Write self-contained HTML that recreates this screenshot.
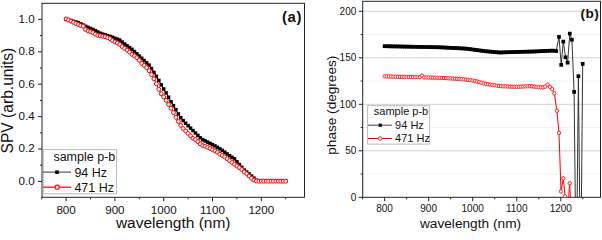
<!DOCTYPE html><html><head><meta charset="utf-8"><style>html,body{margin:0;padding:0;background:#fff;width:602px;height:232px;overflow:hidden}svg{display:block}text{font-family:"Liberation Sans",sans-serif;fill:#111}</style></head><body>
<svg width="602" height="232" viewBox="0 0 602 232">
<defs><clipPath id="cl"><rect x="42" y="3.3" width="262.5" height="194"/></clipPath>
<clipPath id="cr"><rect x="362.7" y="1.3" width="237.8" height="196"/></clipPath></defs>
<g stroke="#222" stroke-width="1" fill="none">
<rect x="42" y="3.3" width="262.5" height="194"/>
<line x1="38" y1="181.4" x2="42" y2="181.4"/>
<line x1="40" y1="165.2" x2="42" y2="165.2"/>
<line x1="38" y1="149" x2="42" y2="149"/>
<line x1="40" y1="132.8" x2="42" y2="132.8"/>
<line x1="38" y1="116.6" x2="42" y2="116.6"/>
<line x1="40" y1="100.4" x2="42" y2="100.4"/>
<line x1="38" y1="84.2" x2="42" y2="84.2"/>
<line x1="40" y1="68" x2="42" y2="68"/>
<line x1="38" y1="51.8" x2="42" y2="51.8"/>
<line x1="40" y1="35.6" x2="42" y2="35.6"/>
<line x1="38" y1="19.4" x2="42" y2="19.4"/>
<line x1="41.7" y1="197.3" x2="41.7" y2="199.3"/>
<line x1="66.1" y1="197.3" x2="66.1" y2="201.3"/>
<line x1="90.5" y1="197.3" x2="90.5" y2="199.3"/>
<line x1="114.9" y1="197.3" x2="114.9" y2="201.3"/>
<line x1="139.3" y1="197.3" x2="139.3" y2="199.3"/>
<line x1="163.7" y1="197.3" x2="163.7" y2="201.3"/>
<line x1="188.1" y1="197.3" x2="188.1" y2="199.3"/>
<line x1="212.5" y1="197.3" x2="212.5" y2="201.3"/>
<line x1="236.9" y1="197.3" x2="236.9" y2="199.3"/>
<line x1="261.3" y1="197.3" x2="261.3" y2="201.3"/>
<line x1="285.7" y1="197.3" x2="285.7" y2="199.3"/>
</g>
<g font-size="11.6" text-anchor="end">
<text x="34.6" y="184.8">0.0</text>
<text x="34.6" y="152.4">0.2</text>
<text x="34.6" y="120">0.4</text>
<text x="34.6" y="87.6">0.6</text>
<text x="34.6" y="55.2">0.8</text>
<text x="34.6" y="22.8">1.0</text>
</g><g font-size="11.6" text-anchor="middle">
<text x="66.1" y="213.6">800</text>
<text x="114.9" y="213.6">900</text>
<text x="163.7" y="213.6">1000</text>
<text x="212.5" y="213.6">1100</text>
<text x="261.3" y="213.6">1200</text>
</g>
<text x="173.2" y="227.9" font-size="15.5" text-anchor="middle">wavelength (nm)</text>
<text transform="translate(12.9,100.6) rotate(-90)" font-size="15.6" text-anchor="middle">SPV (arb.units)</text>
<text x="302.1" y="21.7" font-size="15" font-weight="bold" letter-spacing="0.6" text-anchor="end">(a)</text>
<g clip-path="url(#cl)">
<polyline fill="none" stroke="#000" stroke-width="1" points="66.1,19.33 68.54,19.98 70.98,20.63 73.42,21.28 75.86,21.93 78.3,22.65 80.74,23.87 83.18,25.09 85.62,26.31 88.06,27.44 90.5,28.44 92.94,29.45 95.38,30.65 97.82,31.96 100.26,33.26 102.7,34.12 105.14,34.88 107.58,35.64 110.02,36.4 112.46,37.28 114.9,38.26 117.34,39.15 119.78,40.07 122.22,42.13 124.66,44.06 127.1,45.82 129.54,47.58 131.98,49.34 134.42,51.54 136.86,53.79 139.3,56.03 141.74,58.28 144.18,60.55 146.62,62.82 149.06,65.09 151.5,68.63 153.94,72.46 156.38,76.34 158.82,80.45 161.26,84.88 163.7,88.97 166.14,92.88 168.58,97.28 171.02,101.73 173.46,105.65 175.9,109.66 178.34,113.99 180.78,117.71 183.22,120.66 185.66,123.26 188.1,125.7 190.54,128.14 192.98,130.58 195.42,133 197.86,135.41 200.3,137.82 202.74,139.65 205.18,140.92 207.62,142.19 210.06,143.44 212.5,144.68 214.94,145.91 217.38,147.35 219.82,148.87 222.26,150.39 224.7,152.15 227.14,153.96 229.58,155.75 232.02,157.3 234.46,158.85 236.9,161.68 239.34,164.61 241.78,167.36 244.22,170.11 246.66,172.02 249.1,173.96 251.54,176.03 253.98,178.17 256.42,180.2 258.86,181.2 261.3,181.2 263.74,181.2 266.18,181.2 268.62,181.2 271.06,181.2 273.5,181.2 275.94,181.2 278.38,181.2 280.82,181.2 283.26,181.2 285.7,181.2"/>
<g fill="#000">
<rect x="64.35" y="17.58" width="3.5" height="3.5"/>
<rect x="66.79" y="18.23" width="3.5" height="3.5"/>
<rect x="69.23" y="18.88" width="3.5" height="3.5"/>
<rect x="71.67" y="19.53" width="3.5" height="3.5"/>
<rect x="74.11" y="20.18" width="3.5" height="3.5"/>
<rect x="76.55" y="20.9" width="3.5" height="3.5"/>
<rect x="78.99" y="22.12" width="3.5" height="3.5"/>
<rect x="81.43" y="23.34" width="3.5" height="3.5"/>
<rect x="83.87" y="24.56" width="3.5" height="3.5"/>
<rect x="86.31" y="25.69" width="3.5" height="3.5"/>
<rect x="88.75" y="26.69" width="3.5" height="3.5"/>
<rect x="91.19" y="27.7" width="3.5" height="3.5"/>
<rect x="93.63" y="28.9" width="3.5" height="3.5"/>
<rect x="96.07" y="30.21" width="3.5" height="3.5"/>
<rect x="98.51" y="31.51" width="3.5" height="3.5"/>
<rect x="100.95" y="32.37" width="3.5" height="3.5"/>
<rect x="103.39" y="33.13" width="3.5" height="3.5"/>
<rect x="105.83" y="33.89" width="3.5" height="3.5"/>
<rect x="108.27" y="34.65" width="3.5" height="3.5"/>
<rect x="110.71" y="35.53" width="3.5" height="3.5"/>
<rect x="113.15" y="36.51" width="3.5" height="3.5"/>
<rect x="115.59" y="37.4" width="3.5" height="3.5"/>
<rect x="118.03" y="38.32" width="3.5" height="3.5"/>
<rect x="120.47" y="40.38" width="3.5" height="3.5"/>
<rect x="122.91" y="42.31" width="3.5" height="3.5"/>
<rect x="125.35" y="44.07" width="3.5" height="3.5"/>
<rect x="127.79" y="45.83" width="3.5" height="3.5"/>
<rect x="130.23" y="47.59" width="3.5" height="3.5"/>
<rect x="132.67" y="49.79" width="3.5" height="3.5"/>
<rect x="135.11" y="52.04" width="3.5" height="3.5"/>
<rect x="137.55" y="54.28" width="3.5" height="3.5"/>
<rect x="139.99" y="56.53" width="3.5" height="3.5"/>
<rect x="142.43" y="58.8" width="3.5" height="3.5"/>
<rect x="144.87" y="61.07" width="3.5" height="3.5"/>
<rect x="147.31" y="63.34" width="3.5" height="3.5"/>
<rect x="149.75" y="66.88" width="3.5" height="3.5"/>
<rect x="152.19" y="70.71" width="3.5" height="3.5"/>
<rect x="154.63" y="74.59" width="3.5" height="3.5"/>
<rect x="157.07" y="78.7" width="3.5" height="3.5"/>
<rect x="159.51" y="83.13" width="3.5" height="3.5"/>
<rect x="161.95" y="87.22" width="3.5" height="3.5"/>
<rect x="164.39" y="91.13" width="3.5" height="3.5"/>
<rect x="166.83" y="95.53" width="3.5" height="3.5"/>
<rect x="169.27" y="99.98" width="3.5" height="3.5"/>
<rect x="171.71" y="103.9" width="3.5" height="3.5"/>
<rect x="174.15" y="107.91" width="3.5" height="3.5"/>
<rect x="176.59" y="112.24" width="3.5" height="3.5"/>
<rect x="179.03" y="115.96" width="3.5" height="3.5"/>
<rect x="181.47" y="118.91" width="3.5" height="3.5"/>
<rect x="183.91" y="121.51" width="3.5" height="3.5"/>
<rect x="186.35" y="123.95" width="3.5" height="3.5"/>
<rect x="188.79" y="126.39" width="3.5" height="3.5"/>
<rect x="191.23" y="128.83" width="3.5" height="3.5"/>
<rect x="193.67" y="131.25" width="3.5" height="3.5"/>
<rect x="196.11" y="133.66" width="3.5" height="3.5"/>
<rect x="198.55" y="136.07" width="3.5" height="3.5"/>
<rect x="200.99" y="137.9" width="3.5" height="3.5"/>
<rect x="203.43" y="139.17" width="3.5" height="3.5"/>
<rect x="205.87" y="140.44" width="3.5" height="3.5"/>
<rect x="208.31" y="141.69" width="3.5" height="3.5"/>
<rect x="210.75" y="142.93" width="3.5" height="3.5"/>
<rect x="213.19" y="144.16" width="3.5" height="3.5"/>
<rect x="215.63" y="145.6" width="3.5" height="3.5"/>
<rect x="218.07" y="147.12" width="3.5" height="3.5"/>
<rect x="220.51" y="148.64" width="3.5" height="3.5"/>
<rect x="222.95" y="150.4" width="3.5" height="3.5"/>
<rect x="225.39" y="152.21" width="3.5" height="3.5"/>
<rect x="227.83" y="154" width="3.5" height="3.5"/>
<rect x="230.27" y="155.55" width="3.5" height="3.5"/>
<rect x="232.71" y="157.1" width="3.5" height="3.5"/>
<rect x="235.15" y="159.93" width="3.5" height="3.5"/>
<rect x="237.59" y="162.86" width="3.5" height="3.5"/>
<rect x="240.03" y="165.61" width="3.5" height="3.5"/>
<rect x="242.47" y="168.36" width="3.5" height="3.5"/>
<rect x="244.91" y="170.27" width="3.5" height="3.5"/>
<rect x="247.35" y="172.21" width="3.5" height="3.5"/>
<rect x="249.79" y="174.28" width="3.5" height="3.5"/>
<rect x="252.23" y="176.42" width="3.5" height="3.5"/>
<rect x="254.67" y="178.45" width="3.5" height="3.5"/>
<rect x="257.11" y="179.45" width="3.5" height="3.5"/>
<rect x="259.55" y="179.45" width="3.5" height="3.5"/>
<rect x="261.99" y="179.45" width="3.5" height="3.5"/>
<rect x="264.43" y="179.45" width="3.5" height="3.5"/>
<rect x="266.87" y="179.45" width="3.5" height="3.5"/>
<rect x="269.31" y="179.45" width="3.5" height="3.5"/>
<rect x="271.75" y="179.45" width="3.5" height="3.5"/>
<rect x="274.19" y="179.45" width="3.5" height="3.5"/>
<rect x="276.63" y="179.45" width="3.5" height="3.5"/>
<rect x="279.07" y="179.45" width="3.5" height="3.5"/>
<rect x="281.51" y="179.45" width="3.5" height="3.5"/>
<rect x="283.95" y="179.45" width="3.5" height="3.5"/>
</g>
<polyline fill="none" stroke="#f00" stroke-width="1" points="66.1,18.85 68.54,20.05 70.98,21.14 73.42,22.31 75.86,23.52 78.3,24.52 80.74,25.61 83.18,26.15 85.62,29.57 88.06,30.9 90.5,31.69 92.94,32.64 95.38,34.22 97.82,35.28 100.26,35.75 102.7,36.18 105.14,36.8 107.58,37.59 110.02,38.73 112.46,40.55 114.9,41.88 117.34,43.08 119.78,44.44 122.22,46.63 124.66,48.35 127.1,50.14 129.54,52.14 131.98,54.35 134.42,55.83 136.86,57.76 139.3,60.26 141.74,63.43 144.18,65.42 146.62,67.66 149.06,70.66 151.5,74.58 153.94,78.86 156.38,83.81 158.82,89.32 161.26,93.69 163.7,96.95 166.14,100.36 168.58,104.35 171.02,108.26 173.46,112.57 175.9,117.39 178.34,121.43 180.78,125.37 183.22,128.52 185.66,130.96 188.1,133.4 190.54,135.84 192.98,138.36 195.42,139.53 197.86,141.66 200.3,143.84 202.74,145.66 205.18,146.33 207.62,147.29 210.06,148.48 212.5,149.7 214.94,150.89 217.38,152.3 219.82,154.16 222.26,155.43 224.7,156.97 227.14,158.78 229.58,160.65 232.02,162.48 234.46,164.25 236.9,165.92 239.34,167.63 241.78,169.48 244.22,171.87 246.66,173.73 249.1,176 251.54,178.27 253.98,180.06 256.42,181.03 258.86,181.2 261.3,181.2 263.74,181.2 266.18,181.2 268.62,181.2 271.06,181.2 273.5,181.2 275.94,181.2 278.38,181.2 280.82,181.2 283.26,181.2 285.7,181.2"/>
<g fill="#fff" stroke="#f00" stroke-width="1">
<circle cx="66.1" cy="18.85" r="1.95"/>
<circle cx="68.54" cy="20.05" r="1.95"/>
<circle cx="70.98" cy="21.14" r="1.95"/>
<circle cx="73.42" cy="22.31" r="1.95"/>
<circle cx="75.86" cy="23.52" r="1.95"/>
<circle cx="78.3" cy="24.52" r="1.95"/>
<circle cx="80.74" cy="25.61" r="1.95"/>
<circle cx="83.18" cy="26.15" r="1.95"/>
<circle cx="85.62" cy="29.57" r="1.95"/>
<circle cx="88.06" cy="30.9" r="1.95"/>
<circle cx="90.5" cy="31.69" r="1.95"/>
<circle cx="92.94" cy="32.64" r="1.95"/>
<circle cx="95.38" cy="34.22" r="1.95"/>
<circle cx="97.82" cy="35.28" r="1.95"/>
<circle cx="100.26" cy="35.75" r="1.95"/>
<circle cx="102.7" cy="36.18" r="1.95"/>
<circle cx="105.14" cy="36.8" r="1.95"/>
<circle cx="107.58" cy="37.59" r="1.95"/>
<circle cx="110.02" cy="38.73" r="1.95"/>
<circle cx="112.46" cy="40.55" r="1.95"/>
<circle cx="114.9" cy="41.88" r="1.95"/>
<circle cx="117.34" cy="43.08" r="1.95"/>
<circle cx="119.78" cy="44.44" r="1.95"/>
<circle cx="122.22" cy="46.63" r="1.95"/>
<circle cx="124.66" cy="48.35" r="1.95"/>
<circle cx="127.1" cy="50.14" r="1.95"/>
<circle cx="129.54" cy="52.14" r="1.95"/>
<circle cx="131.98" cy="54.35" r="1.95"/>
<circle cx="134.42" cy="55.83" r="1.95"/>
<circle cx="136.86" cy="57.76" r="1.95"/>
<circle cx="139.3" cy="60.26" r="1.95"/>
<circle cx="141.74" cy="63.43" r="1.95"/>
<circle cx="144.18" cy="65.42" r="1.95"/>
<circle cx="146.62" cy="67.66" r="1.95"/>
<circle cx="149.06" cy="70.66" r="1.95"/>
<circle cx="151.5" cy="74.58" r="1.95"/>
<circle cx="153.94" cy="78.86" r="1.95"/>
<circle cx="156.38" cy="83.81" r="1.95"/>
<circle cx="158.82" cy="89.32" r="1.95"/>
<circle cx="161.26" cy="93.69" r="1.95"/>
<circle cx="163.7" cy="96.95" r="1.95"/>
<circle cx="166.14" cy="100.36" r="1.95"/>
<circle cx="168.58" cy="104.35" r="1.95"/>
<circle cx="171.02" cy="108.26" r="1.95"/>
<circle cx="173.46" cy="112.57" r="1.95"/>
<circle cx="175.9" cy="117.39" r="1.95"/>
<circle cx="178.34" cy="121.43" r="1.95"/>
<circle cx="180.78" cy="125.37" r="1.95"/>
<circle cx="183.22" cy="128.52" r="1.95"/>
<circle cx="185.66" cy="130.96" r="1.95"/>
<circle cx="188.1" cy="133.4" r="1.95"/>
<circle cx="190.54" cy="135.84" r="1.95"/>
<circle cx="192.98" cy="138.36" r="1.95"/>
<circle cx="195.42" cy="139.53" r="1.95"/>
<circle cx="197.86" cy="141.66" r="1.95"/>
<circle cx="200.3" cy="143.84" r="1.95"/>
<circle cx="202.74" cy="145.66" r="1.95"/>
<circle cx="205.18" cy="146.33" r="1.95"/>
<circle cx="207.62" cy="147.29" r="1.95"/>
<circle cx="210.06" cy="148.48" r="1.95"/>
<circle cx="212.5" cy="149.7" r="1.95"/>
<circle cx="214.94" cy="150.89" r="1.95"/>
<circle cx="217.38" cy="152.3" r="1.95"/>
<circle cx="219.82" cy="154.16" r="1.95"/>
<circle cx="222.26" cy="155.43" r="1.95"/>
<circle cx="224.7" cy="156.97" r="1.95"/>
<circle cx="227.14" cy="158.78" r="1.95"/>
<circle cx="229.58" cy="160.65" r="1.95"/>
<circle cx="232.02" cy="162.48" r="1.95"/>
<circle cx="234.46" cy="164.25" r="1.95"/>
<circle cx="236.9" cy="165.92" r="1.95"/>
<circle cx="239.34" cy="167.63" r="1.95"/>
<circle cx="241.78" cy="169.48" r="1.95"/>
<circle cx="244.22" cy="171.87" r="1.95"/>
<circle cx="246.66" cy="173.73" r="1.95"/>
<circle cx="249.1" cy="176" r="1.95"/>
<circle cx="251.54" cy="178.27" r="1.95"/>
<circle cx="253.98" cy="180.06" r="1.95"/>
<circle cx="256.42" cy="181.03" r="1.95"/>
<circle cx="258.86" cy="181.2" r="1.95"/>
<circle cx="261.3" cy="181.2" r="1.95"/>
<circle cx="263.74" cy="181.2" r="1.95"/>
<circle cx="266.18" cy="181.2" r="1.95"/>
<circle cx="268.62" cy="181.2" r="1.95"/>
<circle cx="271.06" cy="181.2" r="1.95"/>
<circle cx="273.5" cy="181.2" r="1.95"/>
<circle cx="275.94" cy="181.2" r="1.95"/>
<circle cx="278.38" cy="181.2" r="1.95"/>
<circle cx="280.82" cy="181.2" r="1.95"/>
<circle cx="283.26" cy="181.2" r="1.95"/>
<circle cx="285.7" cy="181.2" r="1.95"/>
</g></g>
<rect x="43.3" y="149.6" width="73.3" height="44.2" fill="#fff" stroke="#bbb" stroke-width="1"/>
<g font-size="12.5"><text x="53.4" y="160.7">sample p-b</text><text x="74.4" y="176.5">94 Hz</text><text x="74.4" y="191.5">471 Hz</text></g>
<line x1="43" y1="172.1" x2="71" y2="172.1" stroke="#555" stroke-width="1.2"/>
<rect x="55.2" y="170.4" width="3.6" height="3.6" fill="#000"/>
<line x1="43" y1="187.2" x2="71" y2="187.2" stroke="#f00" stroke-width="1.2"/>
<circle cx="57.2" cy="187.2" r="2.1" fill="#fff" stroke="#f00" stroke-width="1.1"/>
<line x1="362.7" y1="174.05" x2="600.5" y2="174.05" stroke="#f3f3f3" stroke-width="1"/>
<line x1="362.7" y1="150.8" x2="600.5" y2="150.8" stroke="#d2d2d2" stroke-width="1"/>
<line x1="362.7" y1="127.55" x2="600.5" y2="127.55" stroke="#f3f3f3" stroke-width="1"/>
<line x1="362.7" y1="104.3" x2="600.5" y2="104.3" stroke="#d2d2d2" stroke-width="1"/>
<line x1="362.7" y1="81.05" x2="600.5" y2="81.05" stroke="#f3f3f3" stroke-width="1"/>
<line x1="362.7" y1="57.8" x2="600.5" y2="57.8" stroke="#d2d2d2" stroke-width="1"/>
<line x1="362.7" y1="34.55" x2="600.5" y2="34.55" stroke="#f3f3f3" stroke-width="1"/>
<line x1="362.7" y1="11.3" x2="600.5" y2="11.3" stroke="#d2d2d2" stroke-width="1"/>
<g stroke="#222" stroke-width="1" fill="none">
<rect x="362.7" y="1.3" width="237.8" height="196"/>
<line x1="358.7" y1="197.3" x2="362.7" y2="197.3"/>
<line x1="360.7" y1="174.05" x2="362.7" y2="174.05"/>
<line x1="358.7" y1="150.8" x2="362.7" y2="150.8"/>
<line x1="360.7" y1="127.55" x2="362.7" y2="127.55"/>
<line x1="358.7" y1="104.3" x2="362.7" y2="104.3"/>
<line x1="360.7" y1="81.05" x2="362.7" y2="81.05"/>
<line x1="358.7" y1="57.8" x2="362.7" y2="57.8"/>
<line x1="360.7" y1="34.55" x2="362.7" y2="34.55"/>
<line x1="358.7" y1="11.3" x2="362.7" y2="11.3"/>
<line x1="362.58" y1="197.3" x2="362.58" y2="199.3"/>
<line x1="384.6" y1="197.3" x2="384.6" y2="201.3"/>
<line x1="406.62" y1="197.3" x2="406.62" y2="199.3"/>
<line x1="428.65" y1="197.3" x2="428.65" y2="201.3"/>
<line x1="450.68" y1="197.3" x2="450.68" y2="199.3"/>
<line x1="472.7" y1="197.3" x2="472.7" y2="201.3"/>
<line x1="494.73" y1="197.3" x2="494.73" y2="199.3"/>
<line x1="516.75" y1="197.3" x2="516.75" y2="201.3"/>
<line x1="538.78" y1="197.3" x2="538.78" y2="199.3"/>
<line x1="560.8" y1="197.3" x2="560.8" y2="201.3"/>
<line x1="582.83" y1="197.3" x2="582.83" y2="199.3"/>
</g>
<g font-size="10" text-anchor="end">
<text x="356.3" y="200.9">0</text>
<text x="356.3" y="154.4">50</text>
<text x="356.3" y="107.9">100</text>
<text x="356.3" y="61.4">150</text>
<text x="356.3" y="14.9">200</text>
</g><g font-size="10" text-anchor="middle">
<text x="384.6" y="212.3">800</text>
<text x="428.65" y="212.3">900</text>
<text x="472.7" y="212.3">1000</text>
<text x="516.75" y="212.3">1100</text>
<text x="560.8" y="212.3">1200</text>
</g>
<text x="470.5" y="227.5" font-size="13.7" text-anchor="middle">wavelength (nm)</text>
<text transform="translate(336.2,105.2) rotate(-90)" font-size="13.6" text-anchor="middle">phase (degrees)</text>
<text x="599.4" y="18.2" font-size="13.6" font-weight="bold" letter-spacing="0.5" text-anchor="end">(b)</text>
<g clip-path="url(#cr)">
<polyline fill="none" stroke="#333" stroke-width="1" points="384.6,46.2 386.8,46.24 389,46.29 391.2,46.33 393.4,46.37 395.6,46.42 397.8,46.46 400,46.51 402.2,46.55 404.4,46.59 406.6,46.64 408.8,46.68 411,46.72 413.2,46.77 415.4,46.81 417.6,46.86 419.8,46.9 422,46.94 424.2,46.99 426.4,47.03 428.6,47.07 430.8,47.12 433,47.16 435.2,47.2 437.4,47.25 439.6,47.29 441.8,47.39 444,47.5 446.2,47.61 448.4,47.72 450.6,47.83 452.8,47.94 455,48.05 457.2,48.16 459.4,48.27 461.6,48.38 463.8,48.49 466,48.61 468.2,48.91 470.4,49.2 472.6,49.5 474.8,49.79 477,50.09 479.2,50.38 481.4,50.68 483.6,50.97 485.8,51.25 488,51.45 490.2,51.65 492.4,51.85 494.6,52.05 496.8,52.25 499,52.45 501.2,52.44 503.4,52.37 505.6,52.3 507.8,52.22 510,52.15 512.2,52.07 514.4,52 516.6,51.94 518.8,51.89 521,51.83 523.2,51.77 525.4,51.72 527.6,51.66 529.8,51.6 532,51.55 534.2,51.48 536.4,51.38 538.6,51.28 540.8,51.17 543,51.07 545.2,50.97 547.4,50.87 549.6,50.76 551.8,50.66 554,50.74 556.2,51.08 559,36.9 561.2,64.9 563.3,41.6 565.5,57.3 567.6,62.7 569.8,33.6 571.9,39.7 574.1,91.9 576.3,290 578.4,76.2 580.6,290 582.7,63.9"/>
<g fill="#000">
<rect x="382.75" y="44.35" width="3.7" height="3.7"/>
<rect x="384.95" y="44.39" width="3.7" height="3.7"/>
<rect x="387.15" y="44.44" width="3.7" height="3.7"/>
<rect x="389.35" y="44.48" width="3.7" height="3.7"/>
<rect x="391.55" y="44.52" width="3.7" height="3.7"/>
<rect x="393.75" y="44.57" width="3.7" height="3.7"/>
<rect x="395.95" y="44.61" width="3.7" height="3.7"/>
<rect x="398.15" y="44.66" width="3.7" height="3.7"/>
<rect x="400.35" y="44.7" width="3.7" height="3.7"/>
<rect x="402.55" y="44.74" width="3.7" height="3.7"/>
<rect x="404.75" y="44.79" width="3.7" height="3.7"/>
<rect x="406.95" y="44.83" width="3.7" height="3.7"/>
<rect x="409.15" y="44.87" width="3.7" height="3.7"/>
<rect x="411.35" y="44.92" width="3.7" height="3.7"/>
<rect x="413.55" y="44.96" width="3.7" height="3.7"/>
<rect x="415.75" y="45.01" width="3.7" height="3.7"/>
<rect x="417.95" y="45.05" width="3.7" height="3.7"/>
<rect x="420.15" y="45.09" width="3.7" height="3.7"/>
<rect x="422.35" y="45.14" width="3.7" height="3.7"/>
<rect x="424.55" y="45.18" width="3.7" height="3.7"/>
<rect x="426.75" y="45.22" width="3.7" height="3.7"/>
<rect x="428.95" y="45.27" width="3.7" height="3.7"/>
<rect x="431.15" y="45.31" width="3.7" height="3.7"/>
<rect x="433.35" y="45.35" width="3.7" height="3.7"/>
<rect x="435.55" y="45.4" width="3.7" height="3.7"/>
<rect x="437.75" y="45.44" width="3.7" height="3.7"/>
<rect x="439.95" y="45.54" width="3.7" height="3.7"/>
<rect x="442.15" y="45.65" width="3.7" height="3.7"/>
<rect x="444.35" y="45.76" width="3.7" height="3.7"/>
<rect x="446.55" y="45.87" width="3.7" height="3.7"/>
<rect x="448.75" y="45.98" width="3.7" height="3.7"/>
<rect x="450.95" y="46.09" width="3.7" height="3.7"/>
<rect x="453.15" y="46.2" width="3.7" height="3.7"/>
<rect x="455.35" y="46.31" width="3.7" height="3.7"/>
<rect x="457.55" y="46.42" width="3.7" height="3.7"/>
<rect x="459.75" y="46.53" width="3.7" height="3.7"/>
<rect x="461.95" y="46.64" width="3.7" height="3.7"/>
<rect x="464.15" y="46.76" width="3.7" height="3.7"/>
<rect x="466.35" y="47.06" width="3.7" height="3.7"/>
<rect x="468.55" y="47.35" width="3.7" height="3.7"/>
<rect x="470.75" y="47.65" width="3.7" height="3.7"/>
<rect x="472.95" y="47.94" width="3.7" height="3.7"/>
<rect x="475.15" y="48.24" width="3.7" height="3.7"/>
<rect x="477.35" y="48.53" width="3.7" height="3.7"/>
<rect x="479.55" y="48.83" width="3.7" height="3.7"/>
<rect x="481.75" y="49.12" width="3.7" height="3.7"/>
<rect x="483.95" y="49.4" width="3.7" height="3.7"/>
<rect x="486.15" y="49.6" width="3.7" height="3.7"/>
<rect x="488.35" y="49.8" width="3.7" height="3.7"/>
<rect x="490.55" y="50" width="3.7" height="3.7"/>
<rect x="492.75" y="50.2" width="3.7" height="3.7"/>
<rect x="494.95" y="50.4" width="3.7" height="3.7"/>
<rect x="497.15" y="50.6" width="3.7" height="3.7"/>
<rect x="499.35" y="50.59" width="3.7" height="3.7"/>
<rect x="501.55" y="50.52" width="3.7" height="3.7"/>
<rect x="503.75" y="50.45" width="3.7" height="3.7"/>
<rect x="505.95" y="50.37" width="3.7" height="3.7"/>
<rect x="508.15" y="50.3" width="3.7" height="3.7"/>
<rect x="510.35" y="50.22" width="3.7" height="3.7"/>
<rect x="512.55" y="50.15" width="3.7" height="3.7"/>
<rect x="514.75" y="50.09" width="3.7" height="3.7"/>
<rect x="516.95" y="50.04" width="3.7" height="3.7"/>
<rect x="519.15" y="49.98" width="3.7" height="3.7"/>
<rect x="521.35" y="49.92" width="3.7" height="3.7"/>
<rect x="523.55" y="49.87" width="3.7" height="3.7"/>
<rect x="525.75" y="49.81" width="3.7" height="3.7"/>
<rect x="527.95" y="49.75" width="3.7" height="3.7"/>
<rect x="530.15" y="49.7" width="3.7" height="3.7"/>
<rect x="532.35" y="49.63" width="3.7" height="3.7"/>
<rect x="534.55" y="49.53" width="3.7" height="3.7"/>
<rect x="536.75" y="49.43" width="3.7" height="3.7"/>
<rect x="538.95" y="49.32" width="3.7" height="3.7"/>
<rect x="541.15" y="49.22" width="3.7" height="3.7"/>
<rect x="543.35" y="49.12" width="3.7" height="3.7"/>
<rect x="545.55" y="49.02" width="3.7" height="3.7"/>
<rect x="547.75" y="48.91" width="3.7" height="3.7"/>
<rect x="549.95" y="48.81" width="3.7" height="3.7"/>
<rect x="552.15" y="48.89" width="3.7" height="3.7"/>
<rect x="554.35" y="49.23" width="3.7" height="3.7"/>
<rect x="557.15" y="35.05" width="3.7" height="3.7"/>
<rect x="559.35" y="63.05" width="3.7" height="3.7"/>
<rect x="561.45" y="39.75" width="3.7" height="3.7"/>
<rect x="563.65" y="55.45" width="3.7" height="3.7"/>
<rect x="565.75" y="60.85" width="3.7" height="3.7"/>
<rect x="567.95" y="31.75" width="3.7" height="3.7"/>
<rect x="570.05" y="37.85" width="3.7" height="3.7"/>
<rect x="572.25" y="90.05" width="3.7" height="3.7"/>
<rect x="574.45" y="288.15" width="3.7" height="3.7"/>
<rect x="576.55" y="74.35" width="3.7" height="3.7"/>
<rect x="578.75" y="288.15" width="3.7" height="3.7"/>
<rect x="580.85" y="62.05" width="3.7" height="3.7"/>
</g>
<polyline fill="none" stroke="#f00" stroke-width="1" points="384.6,76.3 386.8,76.38 389,76.47 391.2,76.55 393.4,76.64 395.6,76.72 397.8,76.8 400,76.89 402.2,76.97 404.4,77.02 406.6,77.04 408.8,77.07 411,77.1 413.2,77.12 415.4,77.15 417.6,77.17 419.8,77.2 422,75.6 424.2,77.4 426.4,77.47 428.6,77.53 430.8,77.6 433,77.66 435.2,77.73 437.4,77.79 439.6,77.86 441.8,77.92 444,77.99 446.2,78.12 448.4,78.26 450.6,78.41 452.8,78.55 455,78.7 457.2,78.84 459.4,78.99 461.6,79.16 463.8,79.4 466,79.65 468.2,79.9 470.4,80.18 472.6,80.61 474.8,81.04 477,81.46 479.2,82.05 481.4,82.7 483.6,83.35 485.8,83.91 488,84.24 490.2,84.58 492.4,84.91 494.6,85.25 496.8,85.58 499,85.92 501.2,86.15 503.4,86.27 505.6,86.39 507.8,86.51 510,86.62 512.2,86.74 514.4,86.86 516.6,86.83 518.8,86.71 521,86.59 523.2,86.48 525.4,86.36 527.6,86.24 529.8,86.13 532,86.31 534.2,86.58 536.4,86.86 538.6,87.13 540.8,87.4 543,87.39 545.2,86.61 547.6,84.6 549.9,86.9 552.2,89.1 554.3,93.4 556.9,110.8 559,132.8 561,191.4 563.3,178.3 565.1,196.3 567.4,215 569.7,183.2 572,230"/>
<g fill="#fff" stroke="#f22" stroke-width="1">
<circle cx="384.6" cy="76.3" r="1.7"/>
<circle cx="386.8" cy="76.38" r="1.7"/>
<circle cx="389" cy="76.47" r="1.7"/>
<circle cx="391.2" cy="76.55" r="1.7"/>
<circle cx="393.4" cy="76.64" r="1.7"/>
<circle cx="395.6" cy="76.72" r="1.7"/>
<circle cx="397.8" cy="76.8" r="1.7"/>
<circle cx="400" cy="76.89" r="1.7"/>
<circle cx="402.2" cy="76.97" r="1.7"/>
<circle cx="404.4" cy="77.02" r="1.7"/>
<circle cx="406.6" cy="77.04" r="1.7"/>
<circle cx="408.8" cy="77.07" r="1.7"/>
<circle cx="411" cy="77.1" r="1.7"/>
<circle cx="413.2" cy="77.12" r="1.7"/>
<circle cx="415.4" cy="77.15" r="1.7"/>
<circle cx="417.6" cy="77.17" r="1.7"/>
<circle cx="419.8" cy="77.2" r="1.7"/>
<circle cx="422" cy="75.6" r="1.7"/>
<circle cx="424.2" cy="77.4" r="1.7"/>
<circle cx="426.4" cy="77.47" r="1.7"/>
<circle cx="428.6" cy="77.53" r="1.7"/>
<circle cx="430.8" cy="77.6" r="1.7"/>
<circle cx="433" cy="77.66" r="1.7"/>
<circle cx="435.2" cy="77.73" r="1.7"/>
<circle cx="437.4" cy="77.79" r="1.7"/>
<circle cx="439.6" cy="77.86" r="1.7"/>
<circle cx="441.8" cy="77.92" r="1.7"/>
<circle cx="444" cy="77.99" r="1.7"/>
<circle cx="446.2" cy="78.12" r="1.7"/>
<circle cx="448.4" cy="78.26" r="1.7"/>
<circle cx="450.6" cy="78.41" r="1.7"/>
<circle cx="452.8" cy="78.55" r="1.7"/>
<circle cx="455" cy="78.7" r="1.7"/>
<circle cx="457.2" cy="78.84" r="1.7"/>
<circle cx="459.4" cy="78.99" r="1.7"/>
<circle cx="461.6" cy="79.16" r="1.7"/>
<circle cx="463.8" cy="79.4" r="1.7"/>
<circle cx="466" cy="79.65" r="1.7"/>
<circle cx="468.2" cy="79.9" r="1.7"/>
<circle cx="470.4" cy="80.18" r="1.7"/>
<circle cx="472.6" cy="80.61" r="1.7"/>
<circle cx="474.8" cy="81.04" r="1.7"/>
<circle cx="477" cy="81.46" r="1.7"/>
<circle cx="479.2" cy="82.05" r="1.7"/>
<circle cx="481.4" cy="82.7" r="1.7"/>
<circle cx="483.6" cy="83.35" r="1.7"/>
<circle cx="485.8" cy="83.91" r="1.7"/>
<circle cx="488" cy="84.24" r="1.7"/>
<circle cx="490.2" cy="84.58" r="1.7"/>
<circle cx="492.4" cy="84.91" r="1.7"/>
<circle cx="494.6" cy="85.25" r="1.7"/>
<circle cx="496.8" cy="85.58" r="1.7"/>
<circle cx="499" cy="85.92" r="1.7"/>
<circle cx="501.2" cy="86.15" r="1.7"/>
<circle cx="503.4" cy="86.27" r="1.7"/>
<circle cx="505.6" cy="86.39" r="1.7"/>
<circle cx="507.8" cy="86.51" r="1.7"/>
<circle cx="510" cy="86.62" r="1.7"/>
<circle cx="512.2" cy="86.74" r="1.7"/>
<circle cx="514.4" cy="86.86" r="1.7"/>
<circle cx="516.6" cy="86.83" r="1.7"/>
<circle cx="518.8" cy="86.71" r="1.7"/>
<circle cx="521" cy="86.59" r="1.7"/>
<circle cx="523.2" cy="86.48" r="1.7"/>
<circle cx="525.4" cy="86.36" r="1.7"/>
<circle cx="527.6" cy="86.24" r="1.7"/>
<circle cx="529.8" cy="86.13" r="1.7"/>
<circle cx="532" cy="86.31" r="1.7"/>
<circle cx="534.2" cy="86.58" r="1.7"/>
<circle cx="536.4" cy="86.86" r="1.7"/>
<circle cx="538.6" cy="87.13" r="1.7"/>
<circle cx="540.8" cy="87.4" r="1.7"/>
<circle cx="543" cy="87.39" r="1.7"/>
<circle cx="545.2" cy="86.61" r="1.7"/>
<circle cx="547.6" cy="84.6" r="1.7"/>
<circle cx="549.9" cy="86.9" r="1.7"/>
<circle cx="552.2" cy="89.1" r="1.7"/>
<circle cx="554.3" cy="93.4" r="1.7"/>
<circle cx="556.9" cy="110.8" r="1.7"/>
<circle cx="559" cy="132.8" r="1.7"/>
<circle cx="561" cy="191.4" r="1.7"/>
<circle cx="563.3" cy="178.3" r="1.7"/>
<circle cx="565.1" cy="196.3" r="1.7"/>
<circle cx="567.4" cy="215" r="1.7"/>
<circle cx="569.7" cy="183.2" r="1.7"/>
<circle cx="572" cy="230" r="1.7"/>
</g></g>
<rect x="367.6" y="105.7" width="62" height="38.4" fill="#fff" stroke="#bbb" stroke-width="1"/>
<g font-size="11"><text x="373.8" y="115.2">sample p-b</text><text x="395.1" y="129">94 Hz</text><text x="395.1" y="142.3">471 Hz</text></g>
<line x1="368" y1="125.2" x2="392" y2="125.2" stroke="#555" stroke-width="1.1"/>
<rect x="378.6" y="123.6" width="3.2" height="3.2" fill="#000"/>
<line x1="368" y1="138.5" x2="392" y2="138.5" stroke="#f00" stroke-width="1.1"/>
<circle cx="380.2" cy="138.5" r="1.8" fill="#fff" stroke="#f22" stroke-width="1"/>
</svg></body></html>
